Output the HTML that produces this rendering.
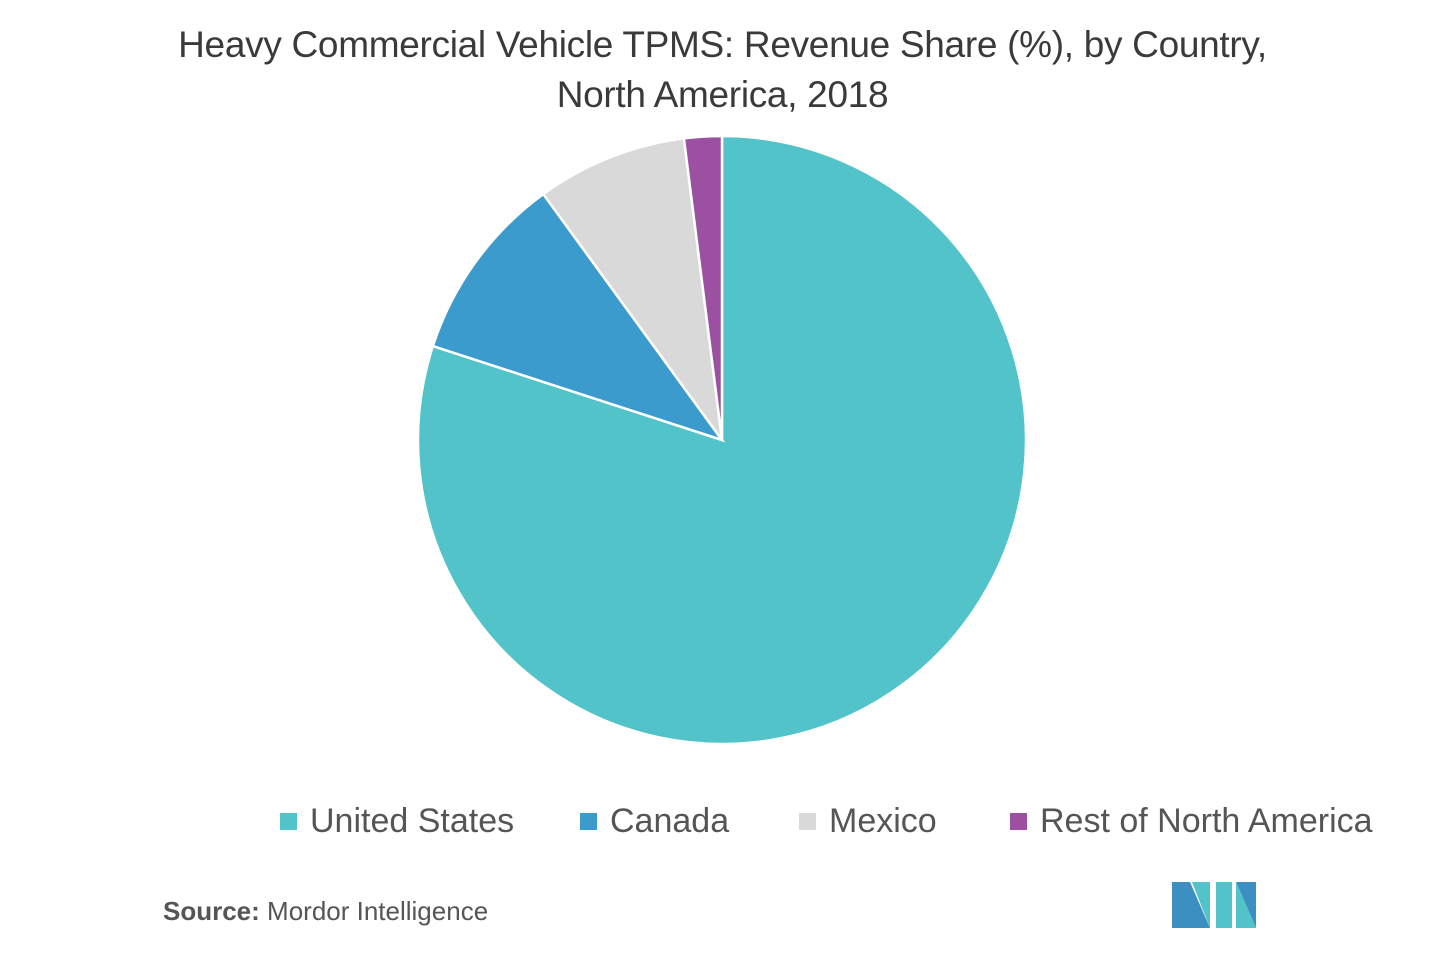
<!DOCTYPE html>
<html><head><meta charset="utf-8">
<style>
body{margin:0;width:1445px;height:955px;background:#fff;font-family:"Liberation Sans",sans-serif;overflow:hidden;position:relative}
#title{position:absolute;left:0;width:1445px;top:20px;text-align:center;font-size:37px;line-height:50px;color:#3a3a3a;letter-spacing:-0.3px}
.leg{position:absolute;top:802px;font-size:34px;color:#555;display:flex;align-items:center}
.leg span.sw{display:inline-block;width:17px;height:17px;margin-right:13px}
#src{position:absolute;left:163px;top:896px;font-size:26px;color:#555}
</style></head><body>
<div id="title">Heavy Commercial Vehicle TPMS: Revenue Share (%), by Country,<br>North America, 2018</div>
<svg id="pie" width="1445" height="955" style="position:absolute;left:0;top:0"></svg>
<div class="leg" style="left:280px"><span class="sw" style="background:#51c3c9"></span>United States</div>
<div class="leg" style="left:580px"><span class="sw" style="background:#3b9bcd"></span>Canada</div>
<div class="leg" style="left:799px"><span class="sw" style="background:#d9d9d9"></span>Mexico</div>
<div class="leg" style="left:1010px"><span class="sw" style="background:#9b50a1"></span>Rest of North America</div>
<div id="src"><b>Source:</b> Mordor Intelligence</div>
<svg width="90" height="50" style="position:absolute;left:1170px;top:880px">
<polygon points="2,48 2,2 20,2 40,48" fill="#3b8fc1"/>
<polygon points="22,2 40,2 40,48" fill="#51c3c9"/>
<polygon points="46,48 46,2 62,2 62,48" fill="#51c3c9"/>
<polygon points="66,2 86,48 86,2" fill="#3b8fc1"/>
<polygon points="66,2 66,48 86,48" fill="#51c3c9"/>
</svg>
<script>
const categories=["United States","Canada","Mexico","Rest of North America"];
const values=[80,10,8,2];
const colors=["#51c3c9","#3b9bcd","#d9d9d9","#9b50a1"];
const svg=document.getElementById('pie');
const cx=722,cy=440,r=304;
const total=values.reduce((a,b)=>a+b,0);
let a0=0;
values.forEach((v,i)=>{
  const a1=a0+v/total*2*Math.PI;
  const x0=cx+r*Math.sin(a0),y0=cy-r*Math.cos(a0);
  const x1=cx+r*Math.sin(a1),y1=cy-r*Math.cos(a1);
  const large=(a1-a0)>Math.PI?1:0;
  const p=document.createElementNS('http://www.w3.org/2000/svg','path');
  p.setAttribute('d',`M${cx},${cy}L${x0},${y0}A${r},${r} 0 ${large} 1 ${x1},${y1}Z`);
  p.setAttribute('fill',colors[i]);
  p.setAttribute('stroke','#fff');
  p.setAttribute('stroke-width','2.5');
  
  
  svg.appendChild(p);
  a0=a1;
});
</script>
</body></html>
